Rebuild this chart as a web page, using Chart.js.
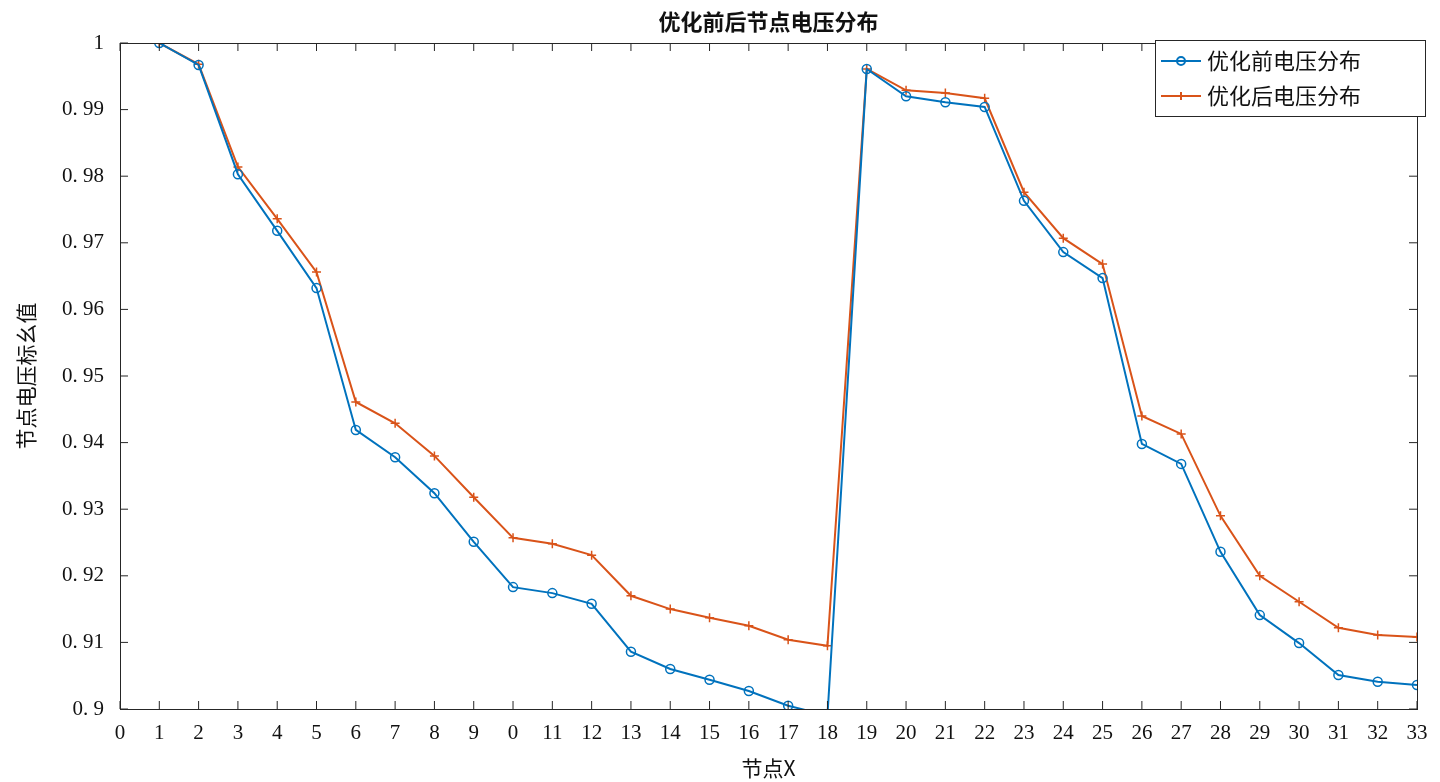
<!DOCTYPE html>
<html><head><meta charset="utf-8">
<script src="https://cdn.jsdelivr.net/npm/chart.js@4"></script>
<style>html,body{margin:0;padding:0;background:#fff}#w{width:1440px;height:782px}</style>
</head><body><div id="w"><canvas id="c"></canvas></div>
<script>
const nodes = Array.from({length:33},(_,i)=>i+1);
const before = [1.0,0.9967,0.9803,0.9718,0.9632,0.9419,0.9378,0.9324,0.9251,0.9183,0.9174,0.9158,0.9086,0.9060,0.9044,0.9027,0.9005,0.8990,0.9961,0.9920,0.9911,0.9904,0.9763,0.9686,0.9647,0.9398,0.9368,0.9236,0.9141,0.9099,0.9051,0.9041,0.9036];
const after = [1.0,0.9968,0.9814,0.9736,0.9656,0.9461,0.9429,0.9380,0.9318,0.9257,0.9248,0.9231,0.9170,0.9150,0.9137,0.9125,0.9104,0.9095,0.9961,0.9929,0.9925,0.9917,0.9776,0.9707,0.9668,0.9440,0.9413,0.9290,0.9200,0.9161,0.9122,0.9111,0.9108];
const xTickLabels = ["0","1","2","3","4","5","6","7","8","9","0","11","12","13","14","15","16","17","18","19","20","21","22","23","24","25","26","27","28","29","30","31","32","33"];
const yTickLabels = {"0.9":"0. 9","0.91":"0. 91","0.92":"0. 92","0.93":"0. 93","0.94":"0. 94","0.95":"0. 95","0.96":"0. 96","0.97":"0. 97","0.98":"0. 98","0.99":"0. 99","1":"1"};
const title = "优化前后节点电压分布";
const xTitle = "节点X";
const yTitle = "节点电压标幺值";
const seriesNames = ["优化前电压分布","优化后电压分布"];
const BLUE="#0072BD", ORANGE="#D95319";
const FONT = "'Liberation Serif','DejaVu Serif','Noto Sans CJK SC',serif";

const deco = {id:'deco', afterDraw(ch){
  const c=ch.ctx, a=ch.chartArea;
  c.save();
  c.strokeStyle='#262626'; c.lineWidth=1;
  c.strokeRect(a.left+0.5,a.top+0.5,a.right-a.left,a.bottom-a.top);
  // inward ticks
  const xs=ch.scales.x, ys=ch.scales.y;
  c.beginPath();
  for(let v=0;v<=33;v++){const px=xs.getPixelForValue(v);c.moveTo(px,a.bottom);c.lineTo(px,a.bottom-8);c.moveTo(px,a.top);c.lineTo(px,a.top+8);}
  for(let i=0;i<=10;i++){const py=ys.getPixelForValue(0.9+i*0.01);c.moveTo(a.left,py);c.lineTo(a.left+8,py);c.moveTo(a.right,py);c.lineTo(a.right-8,py);}
  c.stroke();
  c.fillStyle='#111';
  c.font="bold 22px 'Noto Sans CJK SC'"; c.textAlign='center'; c.textBaseline='middle';
  c.fillText(title,(a.left+a.right)/2,22);
  c.font="21px 'Noto Sans CJK SC'";
  c.fillText(xTitle,(a.left+a.right)/2,768);
  c.save(); c.translate(26,(a.top+a.bottom)/2); c.rotate(-Math.PI/2); c.fillText(yTitle,0,0); c.restore();
  // legend
  const lx=1155, ly=40, lw=270, lh=76;
  c.fillStyle='#fff'; c.fillRect(lx,ly,lw,lh);
  c.strokeStyle='#262626'; c.strokeRect(lx+0.5,ly+0.5,lw,lh);
  c.font="22px 'Noto Sans CJK SC'"; c.textAlign='left'; c.fillStyle='#111';
  const rows=[[BLUE,'circle',seriesNames[0],ly+21],[ORANGE,'cross',seriesNames[1],ly+56]];
  rows.forEach(([col,st,t,y])=>{
    c.strokeStyle=col; c.lineWidth=2; c.beginPath(); c.moveTo(lx+6,y); c.lineTo(lx+46,y); c.stroke();
    c.beginPath();
    if(st==='circle'){c.arc(lx+26,y,4,0,Math.PI*2);} else {c.moveTo(lx+22,y);c.lineTo(lx+30,y);c.moveTo(lx+26,y-4);c.lineTo(lx+26,y+4);}
    c.stroke();
    c.fillText(t,lx+52,y);
  });
  c.restore();
}};

new Chart(document.getElementById('c'),{
  type:'line',
  data:{labels:nodes,datasets:[
    {label:seriesNames[0],data:nodes.map((n,i)=>({x:n,y:before[i]})),borderColor:BLUE,backgroundColor:'transparent',borderWidth:2,pointStyle:'circle',pointRadius:4.5,pointBorderWidth:1.5,pointBorderColor:BLUE,pointBackgroundColor:'rgba(0,0,0,0)',tension:0},
    {label:seriesNames[1],data:nodes.map((n,i)=>({x:n,y:after[i]})),borderColor:ORANGE,backgroundColor:'transparent',borderWidth:2,pointStyle:'cross',pointRadius:4.5,pointBorderWidth:1.5,pointBorderColor:ORANGE,tension:0}
  ]},
  options:{
    responsive:true,maintainAspectRatio:false,animation:false,
    layout:{padding:{top:43,right:23,left:0,bottom:0}},
    plugins:{legend:{display:false},tooltip:{enabled:false}},
    scales:{
      x:{type:'linear',min:0,max:33,grid:{display:false},border:{display:false},
        afterFit(s){s.height=73;},
        ticks:{stepSize:1,autoSkip:false,maxRotation:0,color:'#111',font:{family:FONT,size:21},padding:4,
          callback:(v)=>xTickLabels[v]}},
      y:{min:0.9,max:1,grid:{display:false},border:{display:false},
        afterFit(s){s.width=120;},
        afterBuildTicks(s){s.ticks=[];for(let i=0;i<=10;i++)s.ticks.push({value:+(0.9+i*0.01).toFixed(2)});},
        ticks:{color:'#111',font:{family:FONT,size:21},padding:8,
          callback:(v)=>yTickLabels[String(+v.toFixed(2))]}}
    }
  },
  plugins:[deco]
});
</script></body></html>
